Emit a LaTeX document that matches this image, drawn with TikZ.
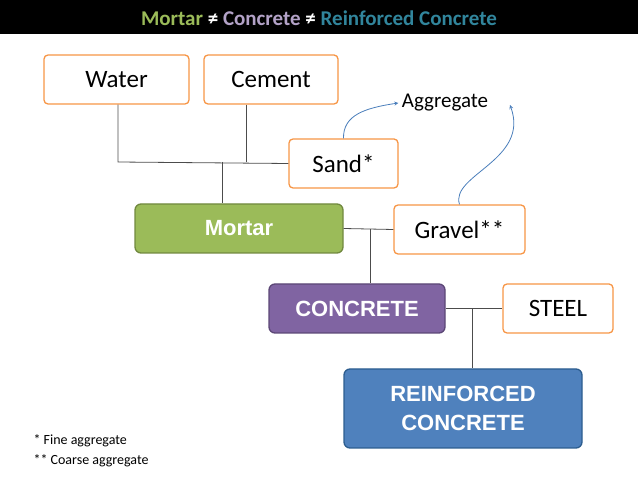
\documentclass[tikz,border=0pt]{standalone}
\usepackage{fontspec}
\setmainfont{Carlito}
\newfontfamily\heavy{Liberation Sans}
\definecolor{mgreen}{HTML}{9BBB59}
\definecolor{mgreend}{HTML}{71893F}
\definecolor{cpurp}{HTML}{8064A2}
\definecolor{cpurpd}{HTML}{5C4776}
\definecolor{cpurpl}{HTML}{B3A2C7}
\definecolor{rblue}{HTML}{4F81BD}
\definecolor{rblued}{HTML}{2C5D8F}
\definecolor{tblue}{HTML}{31859C}
\definecolor{oedge}{HTML}{F79646}
\definecolor{arrc}{HTML}{4A7EBB}
\begin{document}
\begin{tikzpicture}[x=1pt,y=-1pt,
  obox/.style={draw=oedge,line width=1.3pt,fill=white,rounded corners=4pt,font=\fontsize{25}{28}\selectfont},
  cbox/.style={line width=1.3pt,rounded corners=6pt,text=white,font=\heavy\bfseries\fontsize{22}{26}\selectfont,align=center},
  ln/.style={draw=black!70,line width=0.8pt},
  arr/.style={draw=arrc,line width=0.8pt,-stealth}]
\useasboundingbox (0,0) rectangle (638,478);
\fill[black] (0,0) rectangle (638,34);
\node[font=\bfseries\fontsize{21}{24}\selectfont] (title) at (319,18) {\textcolor{mgreen}{Mortar} \textcolor{white}{≠} \textcolor{cpurpl}{Concrete} \textcolor{white}{≠} \textcolor{tblue}{Reinforced Concrete}};
\node[obox,minimum width=145,minimum height=49] (water) at (116.5,79.5) {Water};
\node[obox,minimum width=134,minimum height=49] (cement) at (271,79.5) {Cement};
\node[obox,minimum width=109,minimum height=49] (sand) at (343.5,163.5) {Sand*};
\node[obox,minimum width=131,minimum height=49] (gravel) at (459.5,229.5) {Gravel**};
\node[obox,minimum width=110,minimum height=49] (steel) at (558,308.5) {STEEL};
\node[cbox,draw=mgreend,fill=mgreen,minimum width=208,minimum height=49] (mortar) at (239,228.5) {Mortar};
\node[cbox,draw=cpurpd,fill=cpurp,minimum width=176,minimum height=49] (concrete) at (357,308.5) {CONCRETE};
\node[cbox,draw=rblued,fill=rblue,minimum width=238,minimum height=79,font=\heavy\bfseries\fontsize{22}{29}\selectfont] (rc) at (463,408.5) {REINFORCED\\CONCRETE};
\node[font=\fontsize{21}{24}\selectfont] (agg) at (445,103) {Aggregate};
\node[anchor=west,font=\fontsize{14}{16}\selectfont] (f1) at (30,441) {* Fine aggregate};
\node[anchor=west,font=\fontsize{14}{16}\selectfont] (f2) at (30,461) {** Coarse aggregate};
\coordinate (j1) at (118,162);
\coordinate (j2) at (246,162);
\coordinate (j3) at (222,162);
\coordinate (j4) at (370,229);
\coordinate (j5) at (472,309);
\draw[ln] (water.south -| j1) -- (j1) -- (sand.west);
\draw[ln] (cement.south -| j2) -- (j2);
\draw[ln] (j3) -- (mortar.north -| j3);
\draw[ln] (mortar.east) -- (gravel.west);
\draw[ln] (j4) -- (concrete.north -| j4);
\draw[ln] (concrete.east) -- (steel.west);
\draw[ln] (j5) -- (rc.north -| j5);
\draw[arr] (sand.north) .. controls (343,115) and (365,108) .. (agg.west);
\draw[arr] (gravel.north) .. controls (450,175) and (530,160) .. (510,105);
\end{tikzpicture}
\end{document}
